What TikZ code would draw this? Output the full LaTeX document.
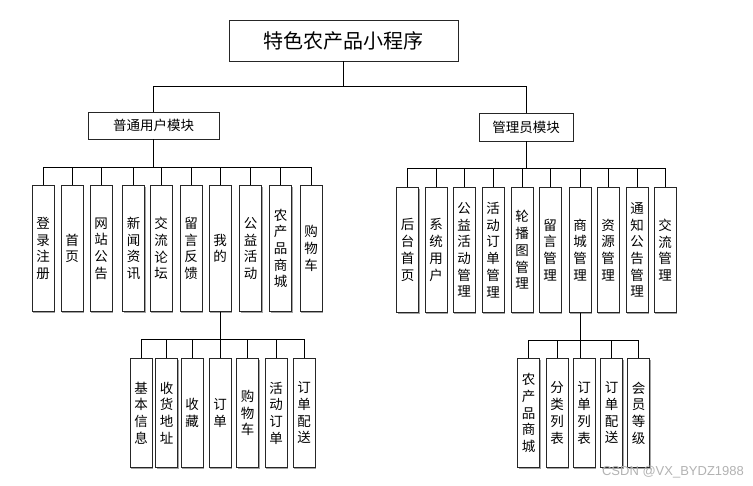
\documentclass[tikz,border=0pt]{standalone}
\usepackage{fontspec}
\setmainfont{Liberation Sans}
\newfontfamily\cjk{Noto Sans CJK SC}
\usetikzlibrary{shadows}
\begin{document}
\begin{tikzpicture}[x=1pt,y=-1pt,
  box/.style={draw=black!85, line width=0.9pt, fill=white, inner sep=0pt,
    drop shadow={shadow xshift=1.3pt, shadow yshift=-1.3pt, fill=black!45, opacity=0.8}},
  vbox/.style={box, minimum width=22pt, minimum height=126pt, align=center, anchor=north,
    font=\cjk\fontsize{13.5}{16.7}\selectfont},
  sbox/.style={vbox, minimum height=109pt},
  mbox/.style={box, font=\cjk\fontsize{13.5}{16}\selectfont},
  conn/.style={draw=black, line width=0.8pt}]
\useasboundingbox (0,0) rectangle (753,486);

% title and modules
\node[box, minimum width=229pt, minimum height=41pt, font=\cjk\fontsize{20}{24}\selectfont] (title) at (343.5,40.5) {特色农产品小程序};
\node[mbox, minimum width=131pt, minimum height=27pt] (user) at (153.5,125.5) {普通用户模块};
\node[mbox, minimum width=94pt, minimum height=28pt] (admin) at (526,127) {管理员模块};

\coordinate (tb) at (0,86);
\draw[conn] (title.south) -- (title.south |- tb);
\draw[conn] (user.north) -- (user.north |- tb) -- (admin.north |- tb) -- (admin.north);

% user children
\node[vbox] (u1) at (43,185) {登\\录\\注\\册};
\node[vbox] (u2) at (72,185) {首\\页};
\node[vbox] (u3) at (101,185) {网\\站\\公\\告};
\node[vbox] (u4) at (133.5,185) {新\\闻\\资\\讯};
\node[vbox] (u5) at (161,185) {交\\流\\论\\坛};
\node[vbox] (u6) at (191,185) {留\\言\\反\\馈};
\node[vbox] (u7) at (220,185) {我\\的};
\node[vbox] (u8) at (250.5,185) {公\\益\\活\\动};
\node[vbox] (u9) at (280.5,185) {农\\产\\品\\商\\城};
\node[vbox] (u10) at (311,185) {购\\物\\车};

\coordinate (ub) at (0,167);
\draw[conn] (user.south) -- (user.south |- ub);
\draw[conn] (u1.north) -- (u1.north |- ub) -- (u10.north |- ub) -- (u10.north);
\foreach \i in {2,...,9} \draw[conn] (u\i.north) -- (u\i.north |- ub);

% admin children
\node[vbox, minimum height=125pt] (a1) at (407.5,187) {后\\台\\首\\页};
\node[vbox, minimum height=125pt] (a2) at (436,187) {系\\统\\用\\户};
\node[vbox, minimum height=125pt] (a3) at (464,187) {公\\益\\活\\动\\管\\理};
\node[vbox, minimum height=125pt] (a4) at (493,187) {活\\动\\订\\单\\管\\理};
\node[vbox, minimum height=125pt] (a5) at (522,187) {轮\\播\\图\\管\\理};
\node[vbox, minimum height=125pt] (a6) at (550,187) {留\\言\\管\\理};
\node[vbox, minimum height=125pt] (a7) at (580,187) {商\\城\\管\\理};
\node[vbox, minimum height=125pt] (a8) at (608,187) {资\\源\\管\\理};
\node[vbox, minimum height=125pt] (a9) at (637,187) {通\\知\\公\\告\\管\\理};
\node[vbox, minimum height=125pt] (a10) at (665,187) {交\\流\\管\\理};

\coordinate (ab) at (0,168);
\draw[conn] (admin.south) -- (admin.south |- ab);
\draw[conn] (a1.north) -- (a1.north |- ab) -- (a10.north |- ab) -- (a10.north);
\foreach \i in {2,...,9} \draw[conn] (a\i.north) -- (a\i.north |- ab);

% 我的 sub
\node[sbox] (w1) at (141,358) {基\\本\\信\\息};
\node[sbox] (w2) at (166.5,358) {收\\货\\地\\址};
\node[sbox] (w3) at (192,358) {收\\藏};
\node[sbox] (w4) at (220,358) {订\\单};
\node[sbox] (w5) at (247.5,358) {购\\物\\车};
\node[sbox] (w6) at (276,358) {活\\动\\订\\单};
\node[sbox] (w7) at (304,358) {订\\单\\配\\送};

\coordinate (wb) at (0,339);
\draw[conn] (u7.south) -- (w4.north);
\draw[conn] (w1.north) -- (w1.north |- wb) -- (w7.north |- wb) -- (w7.north);
\foreach \i in {2,3,5,6} \draw[conn] (w\i.north) -- (w\i.north |- wb);

% 商城管理 sub
\node[sbox] (s1) at (528.5,358) {农\\产\\品\\商\\城};
\node[sbox] (s2) at (557,358) {分\\类\\列\\表};
\node[sbox] (s3) at (584,358) {订\\单\\列\\表};
\node[sbox] (s4) at (611.5,358) {订\\单\\配\\送};
\node[sbox] (s5) at (638.5,358) {会\\员\\等\\级};

\coordinate (sb) at (0,340);
\draw[conn] (a7.south) -- (s3.north -| a7.south);
\draw[conn] (s1.north) -- (s1.north |- sb) -- (s5.north |- sb) -- (s5.north);
\foreach \i in {2,4} \draw[conn] (s\i.north) -- (s\i.north |- sb);

% watermark
\node[text=black!30, font=\fontsize{13}{15}\selectfont, inner sep=0pt] (wm) at (673,472) {CSDN @VX\_BYDZ1988};
\end{tikzpicture}
\end{document}
